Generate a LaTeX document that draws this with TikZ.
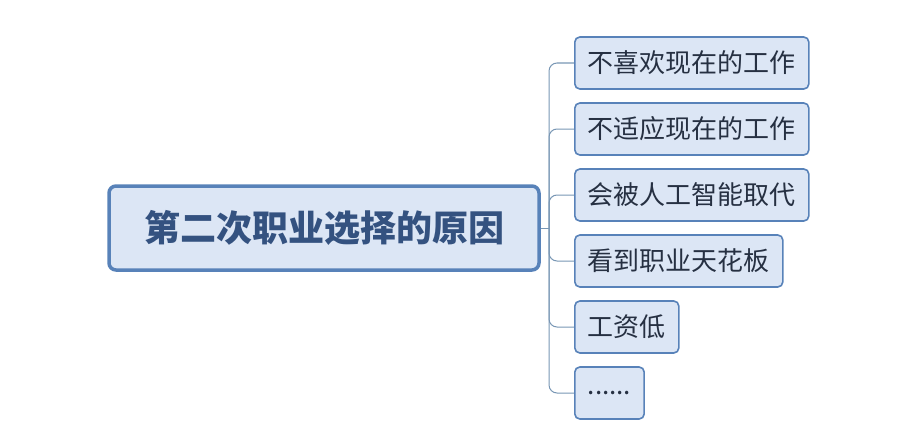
\documentclass[tikz,border=0pt]{standalone}
\usepackage{fontspec}
\setmainfont{Noto Sans CJK SC}
\usetikzlibrary{positioning, calc}
\definecolor{mapBorder}{RGB}{88, 130, 185}
\definecolor{mapFill}{RGB}{220, 230, 245}
\definecolor{mapTitle}{RGB}{52, 82, 128}
\definecolor{mapText}{RGB}{38, 48, 66}
\definecolor{mapLine}{RGB}{120, 150, 180}

\begin{document}
\begin{tikzpicture}[x=1pt, y=-1pt,
    root/.style={rectangle, draw=mapBorder, line width=3.5pt, fill=mapFill, rounded corners=7pt, minimum width=430pt, minimum height=84pt, font=\fontsize{36}{40}\selectfont\bfseries, text=mapTitle},
    reason/.style={rectangle, draw=mapBorder, line width=1.6pt, fill=mapFill, rounded corners=5pt, minimum height=52pt, inner xsep=13pt, anchor=west, font=\fontsize{26}{30}\selectfont, text=mapText},
    link/.style={draw=mapLine, line width=1pt, rounded corners=8pt}
  ]
    \useasboundingbox (0,0) rectangle (920,444);
    \node[root] (cause) at (324,228) {第二次职业选择的原因};
    \node[reason] (r1) at (574,63) {不喜欢现在的工作};
    \node[reason] (r2) at (574,129) {不适应现在的工作};
    \node[reason] (r3) at (574,195) {会被人工智能取代};
    \node[reason] (r4) at (574,261) {看到职业天花板};
    \node[reason] (r5) at (574,327) {工资低};
    \node[reason] (r6) at (574,393) {......};
    \coordinate (trunk) at (549,228);

    \draw[link] (cause.east) -- (trunk);
    \foreach \r in {r1, r2, r3, r4, r5, r6}
      \draw[link] (trunk) |- (\r.west);
  \end{tikzpicture}
\end{document}
